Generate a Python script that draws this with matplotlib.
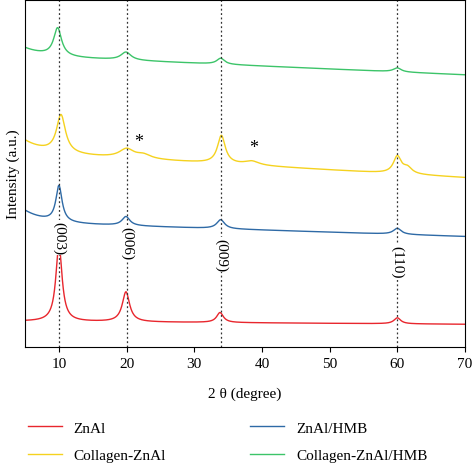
import numpy as np
import matplotlib
matplotlib.use('Agg')
import matplotlib.pyplot as plt

plt.rcParams['font.family'] = ['Liberation Serif', 'DejaVu Serif']

# series: baseline start/end, low-angle rise, peaks (centre, height, width)
names = ['ZnAl', 'ZnAl/HMB', 'Collagen-ZnAl', 'Collagen-ZnAl/HMB']
colors = ['#e8262d', '#2e6aa6', '#f5d21f', '#3cc469']
base_start = [26, 125, 195, 292]
base_end = [23, 111, 170, 273]
low_rise = [0, 12, 12, 8]
peak_pos = [[10.0, 19.9, 33.8, 60.0],
            [10.0, 19.9, 33.9, 60.0],
            [10.3, 20.0, 22.5, 34.0, 38.5, 60.0, 61.5],
            [9.8, 19.9, 33.9, 60.0]]
peak_h = [[77, 30, 10, 6],
          [36, 9, 9, 6],
          [38, 9, 4, 28, 4, 17, 6],
          [28, 8, 6, 4]]
peak_w = [[0.55, 0.65, 0.6, 0.6],
          [0.55, 0.7, 0.7, 0.7],
          [0.8, 1.3, 1.3, 0.7, 1.3, 0.7, 0.8],
          [0.7, 0.9, 0.7, 0.7]]

planes = ['(003)', '(006)', '(009)', '(110)']
plane_x = [10, 20, 34, 60]
label_y = [238, 243, 255, 262]

x = np.linspace(5, 70, 1500)
fig = plt.figure(figsize=(4.74, 4.77), dpi=100)
ax = fig.add_axes([0.053, 0.27, 0.928, 0.728])
for i in range(4):
    y = base_start[i] + (base_end[i] - base_start[i]) * (x - 5) / 65 + low_rise[i] * np.exp(-(x - 5) / 3)
    for c, h, w in zip(peak_pos[i], peak_h[i], peak_w[i]):
        y = y + h / (1 + ((x - c) / w) ** 2)
    ax.plot(x, y, color=colors[i], lw=1.0, label=names[i])

for px in plane_x:
    ax.axvline(px, color='#333333', ls=(0, (1.5, 2)), lw=0.9)
for p, px, ly in zip(planes, plane_x, label_y):
    ax.text(px, 348 - ly, p, rotation=270, ha='center', va='center', fontsize=11,
            bbox=dict(facecolor='white', edgecolor='none', pad=0.5))
ax.text(21.8, 348 - 146, '*', fontsize=13, ha='center')
ax.text(38.7, 348 - 152, '*', fontsize=13, ha='center')

ax.set_xlim(5, 70)
ax.set_ylim(0, 348)
ax.set_yticks([])
ax.set_xticks([10, 20, 30, 40, 50, 60, 70])
ax.tick_params(labelsize=11)
ax.set_xlabel('2 θ (degree)', fontsize=11, labelpad=12)
ax.set_ylabel('Intensity (a.u.)', fontsize=11, labelpad=4)

h, l = ax.get_legend_handles_labels()
order = [0, 2, 1, 3]
fig.legend([h[k] for k in order], [l[k] for k in order], ncol=2, loc='lower left',
           bbox_to_anchor=(0.03, 0.0), frameon=False, fontsize=11,
           handlelength=2.2, columnspacing=5.5, labelspacing=0.9)
fig.savefig('out.png', dpi=100)
